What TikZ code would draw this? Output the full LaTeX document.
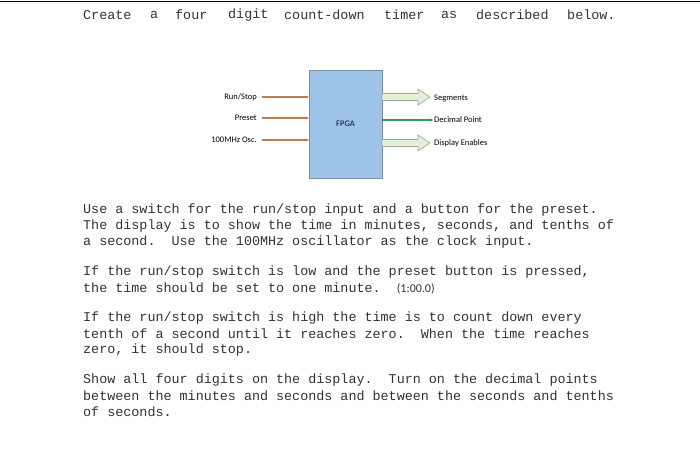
\documentclass[tikz,border=0pt]{standalone}
\usepackage{fontspec}
\setmainfont{Liberation Sans}
\newfontfamily\mono{Liberation Mono}
\newfontfamily\carl{Carlito}
\usetikzlibrary{arrows.meta}
\definecolor{fpga}{HTML}{9DC3E6}
\definecolor{fpgab}{HTML}{7F8FA0}
\definecolor{inl}{HTML}{C07A55}
\definecolor{dpl}{HTML}{2E9A5E}
\definecolor{fat}{HTML}{E4F0DA}
\definecolor{fatb}{HTML}{9AA890}
\definecolor{txt}{HTML}{333333}
\tikzset{
  lbl/.style={font=\carl\fontsize{8.5}{9}\selectfont, text=black, inner sep=1pt},
  body/.style={font=\mono\fontsize{13.4}{16}\selectfont, text=txt, anchor=west, inner sep=0pt},
  inarrow/.style={draw=inl, line width=1.1pt, -{Stealth[length=3pt,width=3pt]}},
  fatarrow/.style={fill=fat, draw=fatb, line width=0.6pt},
}
\begin{document}
\begin{tikzpicture}[x=1pt,y=-1pt]
\useasboundingbox (0,0) rectangle (700,448);
\fill[white] (0,0) rectangle (700,448);
\draw[black, line width=1pt] (0,1.5) -- (700,1.5);
% title
\foreach \w/\x in {Create/83, a/150, four/175, digit/228, count-down/284, timer/384, as/441, described/476, below./567}
  \node[body] at (\x,15) {\w};
% diagram
\node[draw=fpgab, fill=fpga, minimum width=73pt, minimum height=108pt, inner sep=0pt,
      font=\carl\fontsize{8.5}{9}\selectfont, text=black!60!blue] (fpga) at (345.5,124) {FPGA};
\coordinate (i1) at (262,97); \coordinate (i2) at (262,118); \coordinate (i3) at (262,140);
\node[lbl, anchor=east] (l1) at (258,97) {Run/Stop};
\node[lbl, anchor=east] (l2) at (258,118) {Preset};
\node[lbl, anchor=east] (l3) at (258,140) {100MHz Osc.};
\draw[inarrow] (l1.east -| i1) -- (l1.east -| fpga.west);
\draw[inarrow] (l2.east -| i2) -- (l2.east -| fpga.west);
\draw[inarrow] (l3.east -| i3) -- (l3.east -| fpga.west);
\node[lbl, anchor=west] (o1) at (433,98) {Segments};
\node[lbl, anchor=west] (o2) at (433,120) {Decimal Point};
\node[lbl, anchor=west] (o3) at (433,143) {Display Enables};
\foreach \y in {97,143}
  \draw[fatarrow] (382,\y-3.5) -- (418,\y-3.5) -- (418,\y-8) -- (430,\y) -- (418,\y+8) -- (418,\y+3.5) -- (382,\y+3.5) -- cycle;
\draw[draw=dpl, line width=1.1pt, -{Stealth[length=3pt,width=3pt]}] (o2.west -| fpga.east) -- (o2.west);
% text
\node[body] at (83,210) {Use a switch for the run/stop input and a button for the preset.};
\node[body] at (83,226) {The display is to show the time in minutes, seconds, and tenths of};
\node[body] at (83,242) {a second.\ \ Use the 100MHz oscillator as the clock input.};
\node[body] at (83,272) {If the run/stop switch is low and the preset button is pressed,};
\node[body] at (83,288) {the time should be set to one minute.\ \ {\carl\fontsize{12}{12}\selectfont(1:00.0)}};
\node[body] at (83,318) {If the run/stop switch is high the time is to count down every};
\node[body] at (83,334) {tenth of a second until it reaches zero.\ \ When the time reaches};
\node[body] at (83,350) {zero, it should stop.};
\node[body] at (83,380) {Show all four digits on the display.\ \ Turn on the decimal points};
\node[body] at (83,396) {between the minutes and seconds and between the seconds and tenths};
\node[body] at (83,412) {of seconds.};
\end{tikzpicture}
\end{document}
